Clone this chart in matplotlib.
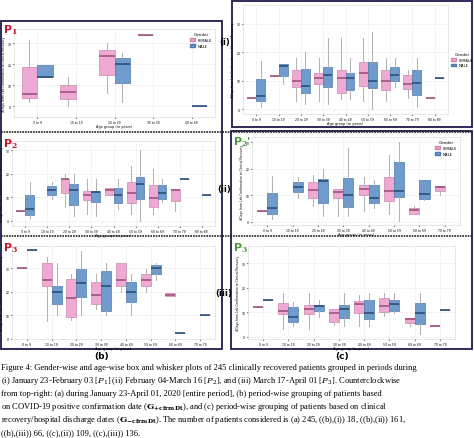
import matplotlib
matplotlib.use("Agg")
import matplotlib.pyplot as plt
from matplotlib.patches import Rectangle, Patch

plt.rcParams["mathtext.fontset"] = "dejavuserif"
W, H = 474, 439
fig = plt.figure(figsize=(W/100, H/100), dpi=100)
fig.patch.set_facecolor("white")

AGES = ["0 to 9", "10 to 19", "20 to 29", "30 to 39", "40 to 49",
        "50 to 59", "60 to 69", "70 to 79", "80 to 89"]
# stats: (q1, median, q3, whisker_low, whisker_high); None = no box
a_female = [(3.8,3.8,3.8,3.8,3.8),(11.7,11.7,11.7,11.7,11.7),(7.9,9.9,13.8,2.7,17.9),(8.7,10.8,12.8,2.7,17.9),
            (5.7,10.8,13.8,3.7,24.9),(8.1,12.8,16.4,2.7,24.9),(6.7,9.9,13.8,2.7,17.9),(7.1,8.8,12.1,3.8,13.8),(3.8,3.8,3.8,3.8,3.8)]
a_male = [(2.7,4.8,10.7,0.8,16.9),(11.7,15.0,15.9,8.7,15.9),(5.7,8.3,14.1,1.7,20.0),(7.8,11.9,14.9,1.7,24.9),
          (6.9,10.8,12.8,3.7,17.9),(7.6,9.9,16.4,0.0,27.0),(9.9,11.9,14.9,7.9,17.9),(5.0,9.3,13.6,0.8,17.9),(10.8,10.8,10.8,10.8,10.8)]
p1_female = [(3.9,5.9,18.8,2.0,31.8),(3.4,7.0,10.4,0.0,14.0),(14.9,24.0,27.0,6.2,30.0),(34.1,34.1,34.1,34.1,34.1),None]
p1_male = [(14.0,14.0,19.8,14.0,19.8),None,(11.0,20.2,23.0,2.0,25.7),None,(0.0,0.0,0.0,0.0,0.0)]
p2_female = [(4.0,4.0,4.0,4.0,4.0),None,(11.9,18.0,18.0,6.1,20.0),(8.9,11.0,12.5,2.9,18.0),(11.0,13.0,14.0,11.0,14.0),
             (7.4,12.0,16.4,2.9,23.2),(5.9,9.9,15.1,2.9,22.0),(8.3,13.0,13.4,4.0,13.4),None]
p2_male = [(2.6,5.0,11.0,0.8,16.7),(11.0,13.0,14.9,9.1,16.7),(6.9,13.0,15.9,2.0,20.0),(8.0,12.3,12.5,2.0,18.0),(7.4,11.0,14.0,5.0,18.0),
           (9.4,15.9,18.6,0.0,30.0),(9.4,12.0,15.1,8.0,18.0),(18.0,18.0,18.0,18.0,18.0),(11.0,11.0,11.0,11.0,11.0)]
q2_female = [(4.1,4.1,4.1,4.1,4.1),None,(9.0,12.1,15.0,6.0,17.8),(9.0,11.0,12.5,2.0,12.5),(10.1,12.2,14.0,4.1,17.0),
             (7.7,11.6,17.0,3.0,25.0),(3.0,4.3,5.0,3.0,5.8),(11.6,13.2,13.5,10.1,13.5)]
q2_male = [(3.0,5.0,10.9,1.1,17.2),(11.0,13.2,15.0,9.0,17.0),(7.1,15.3,16.1,2.0,20.0),(5.6,10.1,16.6,2.0,27.9),(7.1,9.0,13.8,5.0,15.8),
           (9.4,11.6,22.4,0.3,30.0),(8.6,10.6,15.8,8.3,15.8),None]
p3_female = [(30.0,30.0,30.0,30.0,30.0),(22.6,24.9,32.3,7.7,34.9),(9.5,17.5,25.6,7.9,27.4),(15.0,18.8,24.3,12.6,27.4),
             (22.6,24.9,32.3,20.0,32.3),(22.5,24.9,27.4,20.0,29.7),(18.2,18.8,19.5,18.2,19.5),None]
p3_male = [(37.8,37.8,37.8,37.8,37.8),(15.0,20.0,22.3,10.0,32.3),(17.7,23.8,29.9,10.0,37.5),(11.9,22.5,28.7,10.0,32.3),
           (15.7,20.0,24.3,10.0,27.4),(27.4,30.0,31.3,25.0,32.3),(2.5,2.5,2.5,2.5,2.5),(10.0,10.0,10.0,10.0,10.0)]
q3_female = [(12.1,12.1,12.1,12.1,12.1),(9.2,10.5,13.9,3.3,18.0),(9.2,11.3,13.0,3.3,18.0),(6.0,9.8,11.5,5.0,11.5),
             (9.6,13.4,14.6,4.2,17.0),(10.1,12.6,15.9,8.3,18.0),(5.7,7.3,7.7,4.2,7.7),(4.2,4.2,4.2,4.2,4.2)]
q3_male = [(15.1,15.1,15.1,15.1,15.1),(6.0,8.2,12.1,4.2,14.2),(10.7,12.4,13.0,8.2,14.9),(7.6,11.3,13.0,4.2,18.0),
           (7.3,9.8,14.9,4.2,18.0),(10.7,13.4,15.1,9.6,18.0),(5.3,9.8,13.9,1.3,18.0),(11.1,11.1,11.1,11.1,11.1)]

PINK, PINK_E, PINK_M = "#eeaad2", "#c987b0", "#a0527e"
BLUE, BLUE_E, BLUE_M = "#6f9ccc", "#4f79a8", "#2d4f78"

def px_axes(x0, y0, x1, y1):
    return fig.add_axes([x0/W, 1-y1/H, (x1-x0)/W, (y1-y0)/H])

def panel(rect, fem, mal, ylim, legend=None):
    ax = px_axes(*rect)
    ax.set_facecolor("white")
    n = len(fem)
    for stats, col, ec, mc, off in [(fem, PINK, PINK_E, PINK_M, -0.2), (mal, BLUE, BLUE_E, BLUE_M, 0.2)]:
        bx, pos = [], []
        for i, s in enumerate(stats):
            if s is None:
                continue
            q1, med, q3, lo, hi = s
            bx.append(dict(q1=q1, med=med, q3=q3, whislo=lo, whishi=hi, fliers=[]))
            pos.append(i + off)
        ax.bxp(bx, positions=pos, widths=0.4, patch_artist=True, showcaps=False,
               boxprops=dict(facecolor=col, edgecolor=ec, linewidth=0.5),
               medianprops=dict(color=mc, linewidth=1.2),
               whiskerprops=dict(color="#b0b0b0", linewidth=0.7))
    ax.set_xlim(-0.6, n-0.4)
    ax.set_ylim(*ylim)
    ax.set_yticks([0, 10, 20, 30])
    ax.set_xticks(range(n))
    ax.set_xticklabels(AGES[:n], fontsize=2.2)
    ax.tick_params(axis="y", labelsize=2.2, length=1, pad=1)
    ax.tick_params(axis="x", length=1, pad=1)
    ax.grid(True, color="#ececec", linewidth=0.4)
    ax.set_axisbelow(True)
    for s in ax.spines.values():
        s.set_color("#dddddd"); s.set_linewidth(0.5)
    ax.set_xlabel("Age group (in years)", fontsize=2.5, labelpad=0.5)
    ax.set_ylabel("#Days from Lab Confirmation to Clinical Recovery", fontsize=2.2, labelpad=1)
    if legend:
        h = [Patch(facecolor=PINK, edgecolor=PINK_E, label="FEMALE"), Patch(facecolor=BLUE, edgecolor=BLUE_E, label="MALE")]
        ax.legend(handles=h, title="Gender", fontsize=2.6, title_fontsize=3, frameon=False,
                  loc=legend[0], bbox_to_anchor=legend[1], handlelength=1.2, handleheight=0.8)
    return ax

panel((243, 6, 448, 115), a_female, a_male, (-1.7, 36.6), legend=("center left", (1.0, 0.5)))
panel((14, 30, 215, 118), p1_female, p1_male, (-5, 36.9), legend=("upper right", (1.0, 1.0)))
panel((12, 142, 215, 227), p2_female, p2_male, (-2.2, 34))
panel((252, 138, 460, 226), q2_female, q2_male, (-1.3, 32), legend=("upper right", (1.0, 1.0)))
panel((12, 247, 215, 340), p3_female, p3_male, (0.5, 39.5))
panel((248, 247, 455, 340), q3_female, q3_male, (-0.9, 37))

ov = fig.add_axes([0, 0, 1, 1], zorder=-1)
ov.set_xlim(0, W); ov.set_ylim(H, 0); ov.axis("off")
for (x0, y0, x1, y1) in [(232, 2, 472, 128), (1, 22, 222, 350), (231, 132, 472, 350)]:
    ov.add_patch(Rectangle((x0, y0), x1-x0, y1-y0, fill=False, edgecolor="#1a1a4a", linewidth=1.3))
ov2 = fig.add_axes([0, 0, 1, 1], zorder=5)
ov2.set_xlim(0, W); ov2.set_ylim(H, 0); ov2.axis("off")
ov2.plot([1, 472], [133, 133], color="#222222", linestyle=(0, (1, 0.6)), linewidth=1.2)
ov2.plot([1, 472], [237, 237], color="#222222", linestyle=(0, (1, 0.6)), linewidth=1.2)

for txt, x, y in [("(i)", 225, 42), ("(ii)", 224, 190), ("(iii)", 224, 294)]:
    ov2.text(x, y, txt, fontsize=6, fontweight="bold", ha="center", va="center")
ov2.text(102, 357, "(b)", fontsize=6.5, fontweight="bold", ha="center", va="center")
ov2.text(342, 357, "(c)", fontsize=6.5, fontweight="bold", ha="center", va="center")
for txt, x, y, c in [("P$_\\mathbf{1}$", 3, 30, "#c0182a"), ("P$_\\mathbf{2}$", 3, 144, "#c0182a"),
                     ("P$_\\mathbf{3}$", 3, 248, "#c0182a"), ("P$_\\mathbf{2}$'", 233, 142, "#4a9a40"),
                     ("P$_\\mathbf{3}$", 233, 248, "#4a9a40")]:
    ov2.text(x, y, txt, fontsize=8, fontweight="bold", color=c, ha="left", va="center")

caption = [
    "Figure 4: Gender-wise and age-wise box and whisker plots of 245 clinically recovered patients grouped in periods during",
    "(i) January 23-February 03 [$P_1$] (ii) February 04-March 16 [$P_2$], and (iii) March 17-April 01 [$P_3$]. Counterclockwise",
    "from top-right: (a) during January 23-April 01, 2020 [entire period], (b) period-wise grouping of patients based",
    "on COVID-19 positive confirmation date ($\\mathbf{G_{+cfrmDt}}$), and (c) period-wise grouping of patients based on clinical",
    "recovery/hospital discharge dates ($\\mathbf{G_{-cfrmDt}}$). The number of patients considered is (a) 245, ((b),(i)) 18, ((b),(ii)) 161,",
    "((b),(iii)) 66, ((c),(ii)) 109, ((c),(iii)) 136.",
]
for i, line in enumerate(caption):
    ov2.text(1, 368 + i*13.1, line, fontsize=6.1, family="Liberation Serif", ha="left", va="center")

fig.savefig("out.png", dpi=100)
